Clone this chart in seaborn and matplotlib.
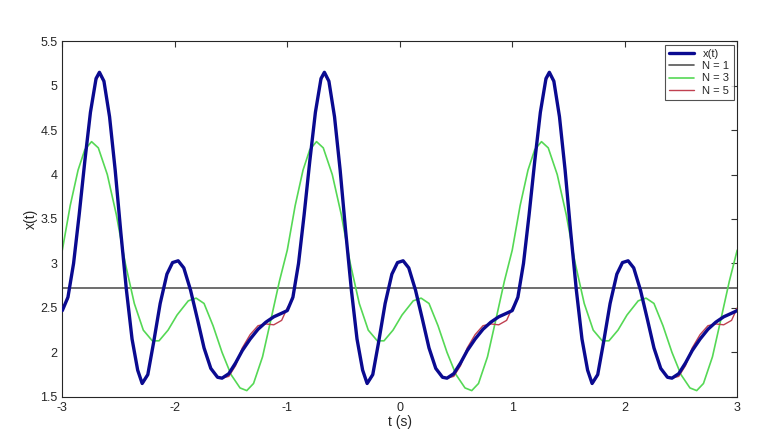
import numpy as np
import pandas as pd
import matplotlib
matplotlib.use("Agg")
import matplotlib.pyplot as plt
import seaborn as sns

# one period (t in [-3,-1)); signal has period 2
t_x = [-3.00,-2.95,-2.90,-2.85,-2.80,-2.75,-2.70,-2.67,-2.63,-2.58,-2.53,-2.48,-2.43,-2.38,-2.33,-2.29,-2.24,-2.19,-2.13,-2.07,-2.02,-1.97,-1.92,-1.86,-1.80,-1.74,-1.68,-1.62,-1.58,-1.52,-1.46,-1.40,-1.33,-1.26,-1.19,-1.12,-1.05]
x_t = [2.47,2.62,3.00,3.55,4.15,4.70,5.08,5.15,5.05,4.65,4.05,3.35,2.70,2.15,1.80,1.65,1.75,2.10,2.55,2.88,3.01,3.03,2.95,2.70,2.38,2.05,1.82,1.72,1.71,1.76,1.88,2.02,2.15,2.26,2.34,2.40,2.44]
x_n5 = [2.50,2.60,3.00,3.55,4.15,4.70,5.06,5.13,5.04,4.65,4.05,3.35,2.70,2.15,1.80,1.64,1.74,2.10,2.55,2.88,3.01,3.03,2.95,2.70,2.38,2.05,1.82,1.72,1.71,1.73,1.85,2.05,2.20,2.30,2.32,2.31,2.36]
t_g = [-3.00,-2.93,-2.86,-2.80,-2.74,-2.68,-2.60,-2.52,-2.44,-2.36,-2.28,-2.20,-2.14,-2.06,-1.98,-1.88,-1.81,-1.74,-1.66,-1.58,-1.50,-1.42,-1.36,-1.30,-1.22,-1.14,-1.07]
x_n3 = [3.15,3.65,4.05,4.28,4.37,4.30,4.00,3.55,3.00,2.55,2.25,2.13,2.13,2.25,2.42,2.58,2.61,2.55,2.30,2.00,1.75,1.60,1.57,1.65,1.95,2.40,2.80]
n1_value = 2.72
periods = [0, 2, 4]

def tile(ts, vs):
    tt = np.concatenate([np.array(ts) + k for k in periods] + [[3.0]])
    vv = np.concatenate([np.array(vs)] * len(periods) + [[vs[0]]])
    return tt, vv

sns.set_style("white")
plt.rcParams['font.family'] = ['Liberation Sans', 'DejaVu Sans']
plt.rcParams['axes.unicode_minus'] = False
fig = plt.figure(figsize=(7.6, 4.38), dpi=100)
ax = fig.add_axes([0.082, 0.094, 0.888, 0.812])

tb, xb = tile(t_x, x_t)
tr, xr = tile(t_x, x_n5)
tg, xg = tile(t_g, x_n3)
sns.lineplot(x=tb, y=xb, ax=ax, color='#0a0a90', lw=2.4, label='x(t)', sort=False, zorder=4)
sns.lineplot(x=[-3, 3], y=[n1_value, n1_value], ax=ax, color='#555555', lw=1.2, label='N = 1', zorder=2)
sns.lineplot(x=tg, y=xg, ax=ax, color='#55d855', lw=1.2, label='N = 3', sort=False, zorder=2)
sns.lineplot(x=tr, y=xr, ax=ax, color='#c04050', lw=1.0, label='N = 5', sort=False, zorder=3)

ax.set_xlim(-3, 3)
ax.set_ylim(1.5, 5.5)
ax.set_xticks(range(-3, 4))
ax.set_yticks(np.arange(1.5, 5.51, 0.5))
ax.set_yticklabels(['1.5','2','2.5','3','3.5','4','4.5','5','5.5'])
ax.tick_params(direction='in', length=4, color='#333333', labelsize=9, colors='#262626', top=True, right=True)
for s in ax.spines.values():
    s.set_color('#262626'); s.set_linewidth(0.8)
ax.set_xlabel('t (s)', fontsize=10, labelpad=1)
ax.set_ylabel('x(t)', fontsize=10, labelpad=2)
leg = ax.legend(loc='upper right', fontsize=8, frameon=True, fancybox=False, handlelength=2.2,
                borderaxespad=0.3, labelspacing=0.2)
leg.get_frame().set_edgecolor('#262626')
leg.get_frame().set_linewidth(0.8)
fig.savefig('out.png', dpi=100)
